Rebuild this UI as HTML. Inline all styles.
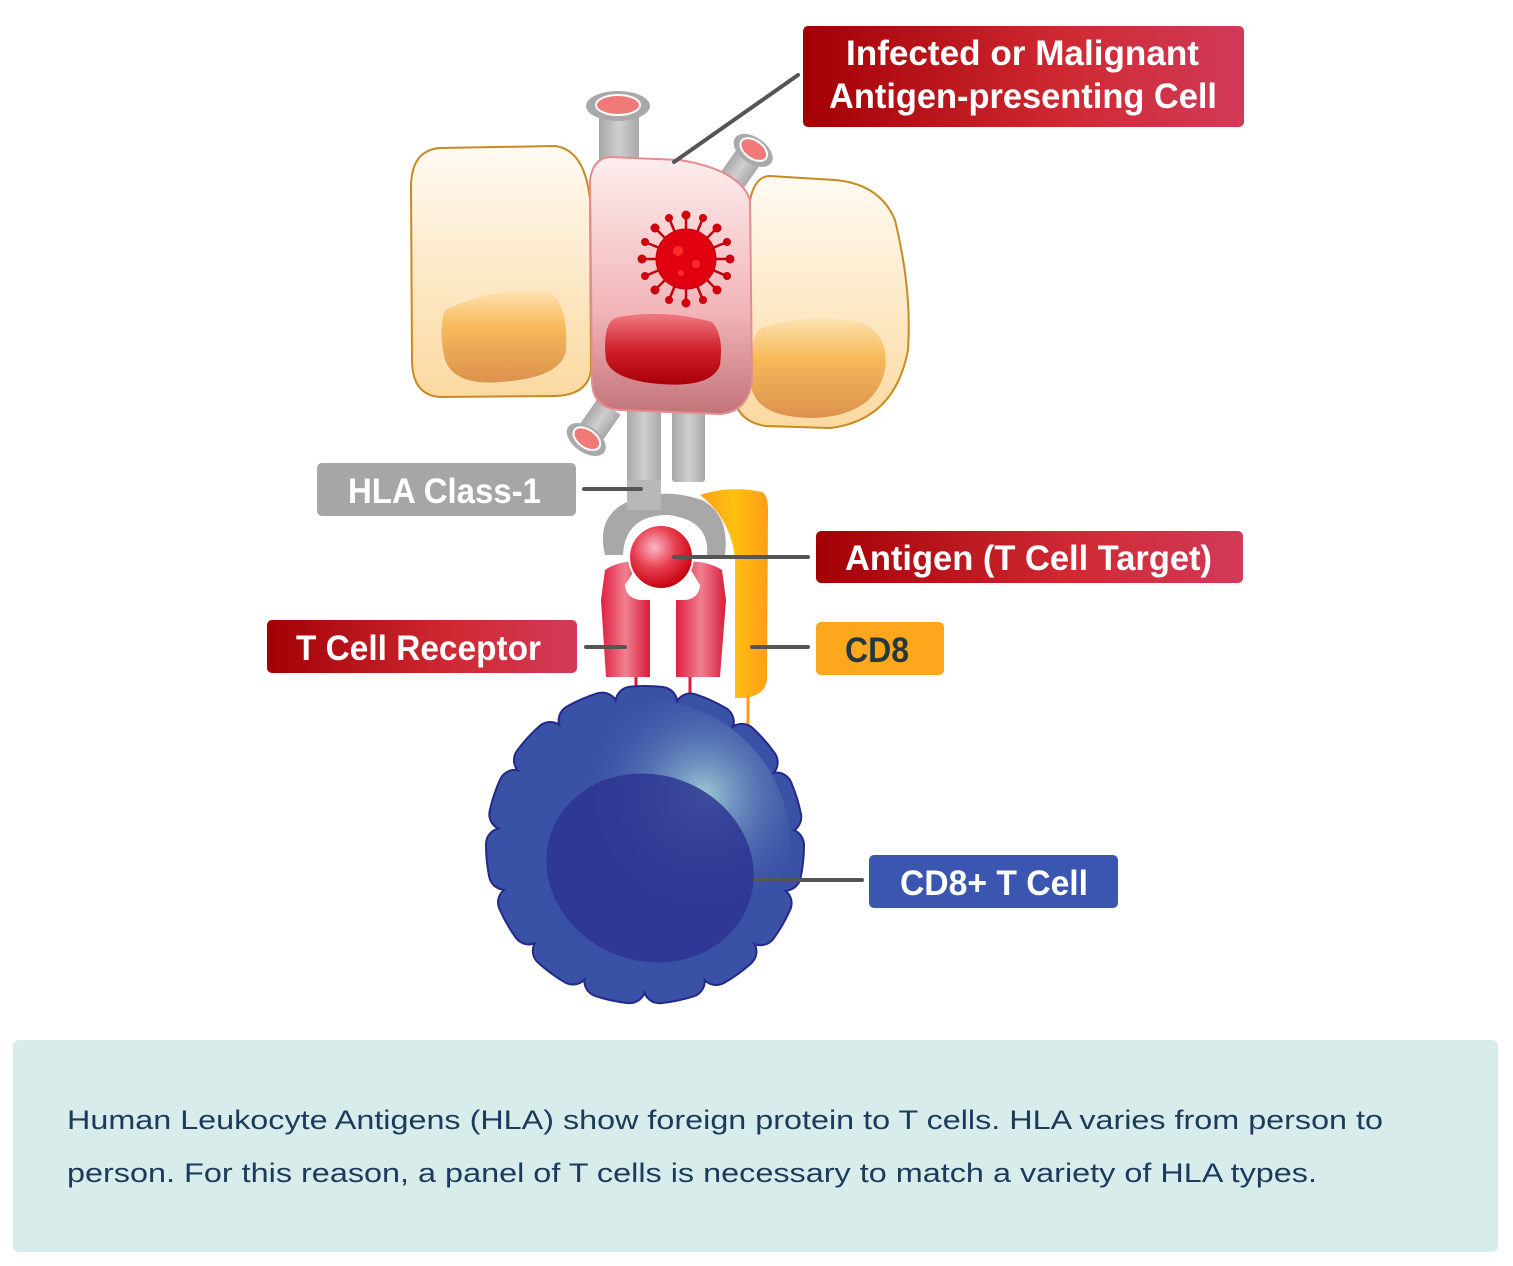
<!DOCTYPE html>
<html><head><meta charset="utf-8"><style>
html,body{margin:0;padding:0;background:#fff;}
svg{display:block;}
</style></head><body>
<svg width="1513" height="1266" viewBox="0 0 1513 1266" xmlns="http://www.w3.org/2000/svg">
<defs>
<linearGradient id="red" x1="0" x2="1" y1="0" y2="0"><stop offset="0" stop-color="#a30006"/><stop offset="0.6" stop-color="#cf2a33"/><stop offset="1" stop-color="#d13a58"/></linearGradient>
<linearGradient id="cream" x1="0" x2="0" y1="0" y2="1"><stop offset="0" stop-color="#fffaf2"/><stop offset="1" stop-color="#fbd9a0"/></linearGradient>
<linearGradient id="nuc" x1="0" x2="0" y1="0" y2="1"><stop offset="0" stop-color="#fde2b0"/><stop offset="0.4" stop-color="#f8b95a"/><stop offset="1" stop-color="#dc914e"/></linearGradient>
<linearGradient id="pink" x1="0" x2="0" y1="0" y2="1"><stop offset="0" stop-color="#fdeeee"/><stop offset="0.6" stop-color="#f2b5b8"/><stop offset="1" stop-color="#c27378"/></linearGradient>
<linearGradient id="rnuc" x1="0" x2="0" y1="0" y2="1"><stop offset="0" stop-color="#f07a82"/><stop offset="0.5" stop-color="#d0202c"/><stop offset="1" stop-color="#a80008"/></linearGradient>
<radialGradient id="ball" cx="0.4" cy="0.35" r="0.65"><stop offset="0" stop-color="#f9b8c8"/><stop offset="0.5" stop-color="#e84050"/><stop offset="1" stop-color="#c80010"/></radialGradient>
<linearGradient id="tcr" x1="0" x2="1"><stop offset="0" stop-color="#e02040"/><stop offset="0.5" stop-color="#f07f90"/><stop offset="1" stop-color="#d81c3a"/></linearGradient>
<linearGradient id="org" x1="0" x2="1"><stop offset="0" stop-color="#ffa018"/><stop offset="0.5" stop-color="#ffc010"/><stop offset="1" stop-color="#ff9d18"/></linearGradient>
<radialGradient id="glow" cx="0.7" cy="0.33" r="0.42"><stop offset="0" stop-color="#9dcbd6"/><stop offset="1" stop-color="#3a52a6" stop-opacity="0"/></radialGradient>
<linearGradient id="gray" x1="0" x2="1"><stop offset="0" stop-color="#a8a8a8"/><stop offset="0.5" stop-color="#cfcfcf"/><stop offset="1" stop-color="#a8a8a8"/></linearGradient>
</defs>

<!-- top receptors -->
<rect x="599" y="110" width="40" height="60" fill="url(#gray)"/>
<ellipse cx="618" cy="106" rx="32" ry="15" fill="#a9a9a9"/>
<ellipse cx="618" cy="105" rx="22" ry="10" fill="#f07a78" stroke="#fff" stroke-width="2"/>
<g transform="rotate(35 752 152)">
<rect x="738" y="152" width="28" height="40" fill="url(#gray)"/>
<ellipse cx="752" cy="150" rx="22" ry="13" fill="#a9a9a9"/>
<ellipse cx="752" cy="149" rx="15" ry="9" fill="#f07a78" stroke="#fff" stroke-width="2"/>
</g>
<g transform="rotate(35 588 437)">
<rect x="574" y="400" width="28" height="40" fill="url(#gray)"/>
<ellipse cx="588" cy="440" rx="22" ry="13" fill="#a9a9a9"/>
<ellipse cx="588" cy="439" rx="15" ry="9" fill="#f07a78" stroke="#fff" stroke-width="2"/>
</g>

<!-- cells -->
<path d="M440 148 L555 146 Q585 150 590 200 L591 370 Q588 395 555 396 L440 397 Q412 395 412 360 L411 185 Q412 150 440 148Z" fill="url(#cream)" stroke="#c98a22" stroke-width="2"/>
<path d="M445 310 Q500 285 548 292 Q568 300 566 350 Q562 378 500 382 Q455 386 445 360 Q438 330 445 310Z" fill="url(#nuc)"/>
<path d="M770 176 L835 180 Q880 184 895 220 Q912 290 908 350 Q895 420 830 428 L765 426 Q730 420 733 380 L750 200 Q755 176 770 176Z" fill="url(#cream)" stroke="#c98a22" stroke-width="2"/>
<path d="M758 330 Q800 312 860 322 Q890 335 885 370 Q875 415 815 418 Q760 418 752 390 Q748 345 758 330Z" fill="url(#nuc)"/>

<!-- lower gray stems -->
<rect x="627" y="400" width="34" height="100" fill="url(#gray)"/>
<rect x="672" y="400" width="33" height="82" rx="3" fill="url(#gray)"/>

<!-- pink cell -->
<path d="M610 157 L680 160 Q740 170 750 200 L752 380 Q748 412 720 414 L620 410 Q592 408 592 380 L590 180 Q593 158 610 157Z" fill="url(#pink)" stroke="#e58c90" stroke-width="2"/>
<path d="M615 318 Q660 308 712 322 Q724 335 720 365 Q712 388 660 384 Q612 380 606 360 Q602 325 615 318Z" fill="url(#rnuc)"/>

<!-- virus -->
<g transform="translate(686 259)" fill="#d3000c" stroke="#c4000a">
<g stroke-width="2.5">
<line x1="0" y1="0" x2="0" y2="-44"/><line x1="0" y1="0" x2="0" y2="44"/><line x1="0" y1="0" x2="-44" y2="0"/><line x1="0" y1="0" x2="44" y2="0"/>
<line x1="0" y1="0" x2="31" y2="31"/><line x1="0" y1="0" x2="-31" y2="31"/><line x1="0" y1="0" x2="31" y2="-31"/><line x1="0" y1="0" x2="-31" y2="-31"/>
<line x1="0" y1="0" x2="17" y2="-41"/><line x1="0" y1="0" x2="-17" y2="-41"/><line x1="0" y1="0" x2="17" y2="41"/><line x1="0" y1="0" x2="-17" y2="41"/>
<line x1="0" y1="0" x2="41" y2="17"/><line x1="0" y1="0" x2="41" y2="-17"/><line x1="0" y1="0" x2="-41" y2="17"/><line x1="0" y1="0" x2="-41" y2="-17"/>
</g>
<circle r="30" fill="#e00010"/>
<circle cx="0" cy="-44" r="4"/><circle cx="0" cy="44" r="4"/><circle cx="-44" cy="0" r="4"/><circle cx="44" cy="0" r="4"/>
<circle cx="31" cy="31" r="4"/><circle cx="-31" cy="31" r="4"/><circle cx="31" cy="-31" r="4"/><circle cx="-31" cy="-31" r="4"/>
<circle cx="17" cy="-41" r="3.5"/><circle cx="-17" cy="-41" r="3.5"/><circle cx="17" cy="41" r="3.5"/><circle cx="-17" cy="41" r="3.5"/>
<circle cx="41" cy="17" r="3.5"/><circle cx="41" cy="-17" r="3.5"/><circle cx="-41" cy="17" r="3.5"/><circle cx="-41" cy="-17" r="3.5"/>
<circle cx="-8" cy="-8" r="5" fill="#ff2a2a" stroke="none"/><circle cx="10" cy="5" r="4" fill="#ff2a2a" stroke="none"/><circle cx="-5" cy="14" r="3" fill="#ff2a2a" stroke="none"/>
</g>

<!-- CD8 -->
<path d="M700 495 Q730 485 762 492 Q768 495 768 510 L767 680 Q765 695 745 698 L735 698 L735 560 Q732 520 700 495Z" fill="url(#org)"/>
<line x1="748" y1="695" x2="748" y2="730" stroke="#ff9d18" stroke-width="3"/>

<!-- HLA ring -->
<path d="M605 555 Q596 518 625 503 Q660 486 702 500 Q730 515 725 555 L707 555 Q710 520 668 515 Q625 515 623 555Z" fill="#a8a8a8"/>
<rect x="627" y="480" width="34" height="30" fill="#b8b8b8"/>

<!-- TCR -->
<path d="M605 570 Q620 560 640 562 L625 585 Q626 598 640 600 L650 600 L650 677 L606 677 L601 600 Z" fill="url(#tcr)"/>
<path d="M722 570 Q706 560 686 562 L700 585 Q699 598 686 600 L676 600 L676 677 L720 677 L726 600 Z" fill="url(#tcr)"/>
<line x1="636" y1="677" x2="636" y2="712" stroke="#d81c3a" stroke-width="3"/>
<line x1="690" y1="677" x2="690" y2="712" stroke="#d81c3a" stroke-width="3"/>

<!-- antigen -->
<circle cx="661" cy="557" r="32" fill="url(#ball)" stroke="#fff" stroke-width="2"/>

<!-- T cell -->
<circle cx="645" cy="845" r="143" fill="none" stroke="#23288a" stroke-width="34" stroke-dasharray="30 30" stroke-linecap="round"/>
<circle cx="645" cy="845" r="143" fill="none" stroke="#3a52a6" stroke-width="30" stroke-dasharray="30 30" stroke-linecap="round"/>
<circle cx="645" cy="845" r="145" fill="#3a52a6"/>
<circle cx="645" cy="845" r="145" fill="url(#glow)"/>
<ellipse cx="650" cy="868" rx="105" ry="93" transform="rotate(20 650 868)" fill="#2e3592" opacity="0.85"/>

<!-- connector lines -->
<g stroke="#555" stroke-width="4" stroke-linecap="round">
<line x1="798" y1="75" x2="674" y2="162"/>
<line x1="584" y1="489" x2="641" y2="489"/>
<line x1="674" y1="557" x2="808" y2="557"/>
<line x1="586" y1="647" x2="625" y2="647"/>
<line x1="752" y1="647" x2="808" y2="647"/>
<line x1="755" y1="880" x2="862" y2="880"/>
</g>

<!-- labels -->
<g font-family="'Liberation Sans', sans-serif" font-weight="bold" font-size="35" fill="#fff" text-anchor="start">
<rect x="803" y="26" width="441" height="101" rx="5" fill="url(#red)"/>
<text x="846" y="65" textLength="353" lengthAdjust="spacingAndGlyphs">Infected or Malignant</text>
<text x="829" y="108" textLength="388" lengthAdjust="spacingAndGlyphs">Antigen-presenting Cell</text>
<rect x="317" y="463" width="259" height="53" rx="5" fill="#a6a6a6"/>
<text x="348" y="503" textLength="193" lengthAdjust="spacingAndGlyphs">HLA Class-1</text>
<rect x="816" y="531" width="427" height="52" rx="5" fill="url(#red)"/>
<text x="845" y="570" textLength="367" lengthAdjust="spacingAndGlyphs">Antigen (T Cell Target)</text>
<rect x="267" y="620" width="310" height="53" rx="5" fill="url(#red)"/>
<text x="296" y="660" textLength="245" lengthAdjust="spacingAndGlyphs">T Cell Receptor</text>
<rect x="816" y="622" width="128" height="53" rx="5" fill="#fca71c"/>
<text x="845" y="662" textLength="64" lengthAdjust="spacingAndGlyphs" fill="#26383f">CD8</text>
<rect x="869" y="855" width="249" height="53" rx="5" fill="#3a56b0"/>
<text x="900" y="895" textLength="188" lengthAdjust="spacingAndGlyphs">CD8+ T Cell</text>
</g>

<!-- bottom box -->
<rect x="13" y="1040" width="1485" height="212" rx="6" fill="#d8edeb"/>
<g font-family="'Liberation Sans', sans-serif" font-size="27" fill="#1b3a5c">
<text x="67" y="1129" textLength="1316" lengthAdjust="spacingAndGlyphs">Human Leukocyte Antigens (HLA) show foreign protein to T cells. HLA varies from person to</text>
<text x="67" y="1182" textLength="1250" lengthAdjust="spacingAndGlyphs">person. For this reason, a panel of T cells is necessary to match a variety of HLA types.</text>
</g>
</svg>
</body></html>
